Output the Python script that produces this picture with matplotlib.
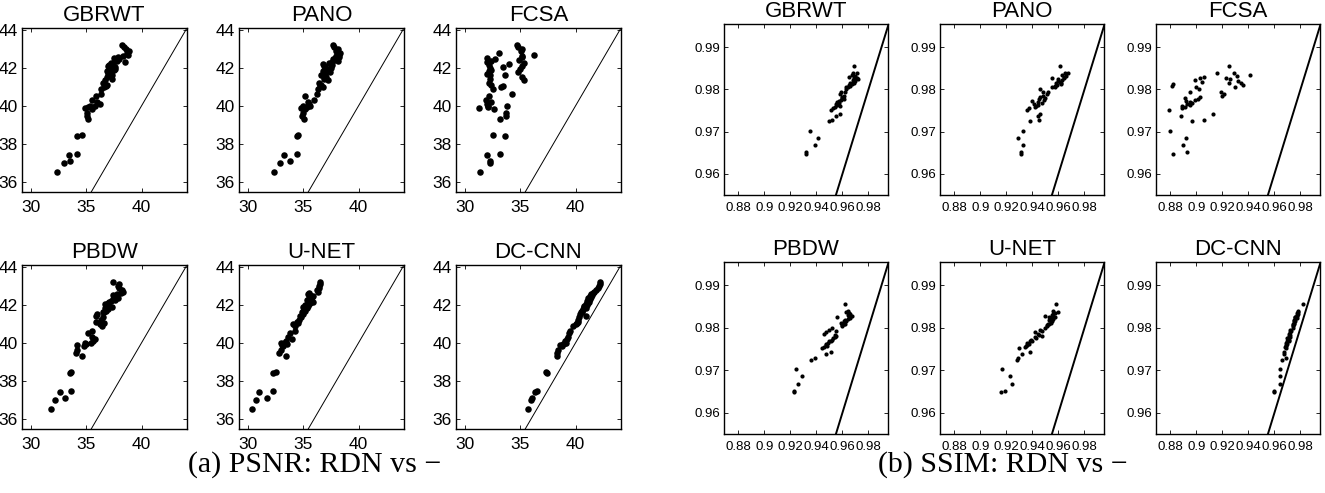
import matplotlib
matplotlib.use("Agg")
import matplotlib.pyplot as plt
import numpy as np

plt.rcParams['font.family'] = ['Liberation Sans', 'DejaVu Sans']

W, H = 1325, 493

# RDN 的 PSNR (纵轴, 所有子图共用)
rdn_psnr = [36.5, 37.0, 37.1, 37.4, 37.45, 38.4, 38.45, 39.3, 39.45, 39.6,
            39.9, 39.95, 40.0, 39.85, 40.1, 40.3, 40.5, 40.6, 40.2, 40.9,
            41.0, 41.05, 41.2, 41.35, 41.4, 41.5, 41.6, 41.7, 41.8, 41.85,
            41.9, 42.0, 42.05, 42.1, 42.2, 42.25, 42.3, 42.35, 42.4, 42.45,
            42.5, 42.55, 42.6, 42.7, 42.8, 42.9, 43.0, 43.1, 43.2, 41.6,
            41.95, 42.15, 40.0, 41.1]

gbrwt_psnr = [32.4, 33.0, 33.5, 33.4, 34.2, 34.2, 34.6, 35.2, 35.1, 35.1,
              34.9, 35.2, 35.8, 35.5, 36.2, 35.5, 35.9, 36.3, 36.0, 36.3,
              36.6, 36.8, 36.5, 36.7, 37.3, 36.9, 37.1, 37.0, 37.2, 36.9,
              37.5, 37.3, 37.6, 37.0, 37.4, 37.2, 38.5, 37.8, 37.6, 38.0,
              37.5, 37.9, 38.3, 38.8, 38.7, 38.9, 38.6, 38.4, 38.2, 37.3,
              37.6, 37.1, 35.3, 36.9]
pano_psnr = [32.4, 32.9, 33.8, 33.3, 34.4, 34.4, 34.5, 35.1, 34.9, 35.0,
             34.8, 35.3, 35.6, 35.2, 35.5, 36.0, 35.2, 36.2, 35.4, 36.3,
             36.8, 36.5, 36.4, 37.2, 36.9, 37.1, 36.7, 37.0, 37.4, 36.8,
             37.2, 37.5, 37.0, 36.9, 36.8, 37.3, 37.6, 38.1, 37.8, 37.7,
             37.9, 38.2, 38.0, 38.2, 38.3, 38.0, 38.1, 37.8, 37.7, 36.6,
             37.2, 37.6, 35.0, 36.6]
fcsa_psnr = [31.4, 32.3, 32.3, 32.0, 33.2, 33.6, 32.5, 33.2, 33.7, 33.7,
             31.3, 32.1, 33.8, 32.6, 32.0, 31.9, 32.2, 34.3, 32.4, 32.5,
             33.3, 33.4, 32.2, 35.3, 32.3, 35.2, 33.6, 32.0, 34.8, 32.2,
             32.4, 32.3, 33.4, 35.2, 34.0, 35.3, 32.0, 32.4, 34.9, 32.7,
             32.0, 35.2, 35.2, 36.2, 33.1, 35.1, 35.2, 34.8, 34.7, 32.3,
             35.0, 32.2, 32.1, 32.4]
pbdw_psnr = [31.8, 32.2, 33.1, 32.6, 33.6, 33.5, 33.6, 34.6, 34.1, 34.2,
             34.2, 35.0, 35.4, 34.8, 35.6, 35.5, 35.2, 35.5, 35.8, 36.4,
             36.2, 36.6, 36.3, 36.5, 35.9, 36.0, 36.6, 36.8, 37.0, 36.7,
             37.3, 36.9, 36.7, 37.0, 37.2, 37.6, 37.4, 37.9, 37.7, 37.5,
             37.4, 37.8, 38.1, 38.3, 38.2, 38.0, 37.9, 38.0, 37.4, 36.5,
             36.8, 37.1, 34.9, 35.9]
unet_psnr = [30.4, 30.7, 31.7, 31.0, 32.3, 32.3, 32.5, 33.4, 32.8, 33.0,
             33.1, 33.5, 33.3, 33.2, 33.4, 33.6, 33.8, 34.3, 34.0, 34.3,
             34.1, 34.5, 34.6, 34.8, 34.7, 35.0, 34.9, 35.2, 35.1, 35.3,
             35.0, 35.2, 35.5, 35.6, 35.4, 35.3, 35.7, 35.5, 35.8, 35.9,
             35.6, 35.4, 35.5, 36.3, 36.2, 36.4, 36.4, 36.5, 36.5, 35.0,
             35.4, 35.9, 33.0, 34.4]
dccnn_psnr = [35.7, 36.0, 36.1, 36.3, 36.5, 37.4, 37.3, 38.3, 38.3, 38.4,
              38.6, 38.9, 39.1, 38.8, 39.0, 39.3, 39.4, 39.5, 39.2, 39.8,
              40.0, 40.1, 40.2, 40.3, 40.9, 40.4, 40.5, 40.6, 40.7, 40.9,
              40.8, 41.0, 40.9, 41.1, 41.0, 41.2, 41.3, 41.1, 41.4, 41.3,
              41.5, 41.4, 41.6, 41.7, 41.8, 42.0, 42.1, 42.2, 42.2, 40.6,
              40.8, 41.2, 39.0, 40.2]

# RDN 的 SSIM
rdn_ssim = [0.9648, 0.9652, 0.9668, 0.9686, 0.9702, 0.9725, 0.9728, 0.9738,
            0.9742, 0.9752, 0.9755, 0.9758, 0.9762, 0.9765, 0.9768, 0.9772,
            0.9775, 0.9778, 0.9780, 0.9785, 0.9790, 0.9793, 0.9795, 0.9800,
            0.9805, 0.9808, 0.9810, 0.9812, 0.9815, 0.9818, 0.9820, 0.9822,
            0.9825, 0.9828, 0.9830, 0.9832, 0.9835, 0.9838, 0.9840, 0.9855,
            0.9760, 0.9770, 0.9783, 0.9816, 0.9826, 0.9806]

gbrwt_ssim = [0.932, 0.932, 0.939, 0.941, 0.935, 0.950, 0.952, 0.955, 0.958,
              0.951, 0.953, 0.954, 0.956, 0.955, 0.957, 0.957, 0.959, 0.961,
              0.960, 0.961, 0.958, 0.959, 0.962, 0.963, 0.964, 0.966, 0.965,
              0.967, 0.969, 0.968, 0.970, 0.968, 0.972, 0.971, 0.965, 0.970,
              0.967, 0.968, 0.971, 0.969, 0.958, 0.956, 0.960, 0.966, 0.969,
              0.963]
pano_ssim = [0.931, 0.931, 0.933, 0.929, 0.933, 0.938, 0.945, 0.944, 0.946,
             0.936, 0.937, 0.942, 0.944, 0.941, 0.947, 0.940, 0.949, 0.945,
             0.950, 0.948, 0.951, 0.948, 0.952, 0.946, 0.955, 0.957, 0.959,
             0.962, 0.958, 0.961, 0.960, 0.963, 0.960, 0.955, 0.964, 0.966,
             0.963, 0.967, 0.965, 0.961, 0.943, 0.944, 0.946, 0.962, 0.964,
             0.957]
fcsa_ssim = [0.882, 0.893, 0.890, 0.892, 0.880, 0.897, 0.906, 0.888, 0.913,
             0.879, 0.889, 0.891, 0.895, 0.893, 0.897, 0.892, 0.899, 0.901,
             0.891, 0.920, 0.921, 0.919, 0.895, 0.902, 0.930, 0.881, 0.936,
             0.882, 0.925, 0.904, 0.932, 0.899, 0.926, 0.923, 0.906, 0.931,
             0.941, 0.916, 0.929, 0.925, 0.889, 0.895, 0.903, 0.934, 0.903,
             0.900]
pbdw_ssim = [0.923, 0.923, 0.926, 0.929, 0.924, 0.936, 0.939, 0.947, 0.951,
             0.944, 0.946, 0.948, 0.947, 0.949, 0.950, 0.952, 0.953, 0.954,
             0.955, 0.946, 0.947, 0.955, 0.950, 0.952, 0.960, 0.962, 0.961,
             0.959, 0.963, 0.962, 0.964, 0.966, 0.965, 0.967, 0.964, 0.966,
             0.965, 0.963, 0.964, 0.962, 0.947, 0.951, 0.954, 0.961, 0.956,
             0.960]
unet_ssim = [0.916, 0.919, 0.924, 0.923, 0.917, 0.928, 0.929, 0.932, 0.938,
             0.930, 0.934, 0.935, 0.937, 0.936, 0.938, 0.939, 0.943, 0.942,
             0.947, 0.944, 0.942, 0.947, 0.946, 0.950, 0.951, 0.953, 0.952,
             0.954, 0.955, 0.953, 0.956, 0.955, 0.957, 0.950, 0.955, 0.956,
             0.957, 0.960, 0.956, 0.958, 0.936, 0.940, 0.945, 0.954, 0.953,
             0.951]
dccnn_ssim = [0.960, 0.960, 0.964, 0.964, 0.964, 0.966, 0.969, 0.967, 0.967,
              0.969, 0.968, 0.969, 0.970, 0.969, 0.970, 0.971, 0.970, 0.972,
              0.971, 0.971, 0.972, 0.973, 0.972, 0.974, 0.974, 0.975, 0.974,
              0.975, 0.976, 0.975, 0.976, 0.977, 0.976, 0.977, 0.977, 0.978,
              0.977, 0.978, 0.978, 0.982, 0.969, 0.971, 0.972, 0.975, 0.976,
              0.974]

methods = ['GBRWT', 'PANO', 'FCSA', 'PBDW', 'U-NET', 'DC-CNN']
psnr_x = [gbrwt_psnr, pano_psnr, fcsa_psnr, pbdw_psnr, unet_psnr, dccnn_psnr]
ssim_x = [gbrwt_ssim, pano_ssim, fcsa_ssim, pbdw_ssim, unet_ssim, dccnn_ssim]

psnr_xticks = [30, 35, 40]
psnr_yticks = [36, 38, 40, 42, 44]
ssim_xticks = [0.88, 0.9, 0.92, 0.94, 0.96, 0.98]
ssim_yticks = [0.96, 0.97, 0.98, 0.99]

fig = plt.figure(figsize=(W / 100, H / 100), dpi=100)


def add_ax(x0, y0, x1, y1):
    # 像素坐标 -> figure 坐标
    return fig.add_axes([x0 / W, 1 - y1 / H, (x1 - x0) / W, (y1 - y0) / H])


def style(ax, fs):
    ax.tick_params(direction='in', top=True, right=True, length=3,
                   width=0.6, labelsize=fs, pad=3)
    for s in ax.spines.values():
        s.set_linewidth(1.0)


# PSNR 子图
psnr_cols = [22, 239, 456]
psnr_rows = [(28, 192), (265, 429)]
for i, m in enumerate(methods):
    r, c = divmod(i, 3)
    x0 = psnr_cols[c]
    y0, y1 = psnr_rows[r]
    ax = add_ax(x0, y0, x0 + 165, y1)
    ax.plot([29.2, 44.1], [29.2, 44.1], color='black', lw=0.7)
    ax.scatter(psnr_x[i], rdn_psnr, s=22, color='black', linewidths=0)
    ax.set_xlim(29.2, 44.1)
    ax.set_ylim(35.45, 44.1)
    ax.set_xticks(psnr_xticks)
    ax.set_yticks(psnr_yticks)
    style(ax, 12.5)
    ax.tick_params(axis='x', pad=6)
    ax.set_title(m, fontsize=16, pad=5)

# SSIM 子图
ssim_cols = [724, 940, 1156]
ssim_rows = [(24, 195), (262, 434)]
for i, m in enumerate(methods):
    r, c = divmod(i, 3)
    x0 = ssim_cols[c]
    y0, y1 = ssim_rows[r]
    ax = add_ax(x0, y0, x0 + 164, y1)
    ax.plot([0.86, 0.9955], [0.86, 0.9955], color='black', lw=1.4)
    ax.scatter(ssim_x[i], rdn_ssim, s=9, color='black', linewidths=0)
    ax.set_xlim(0.869, 0.995)
    ax.set_ylim(0.955, 0.9955)
    ax.set_xticks(ssim_xticks)
    ax.set_xticklabels(['0.88', '0.9', '0.92', '0.94', '0.96', '0.98'])
    ax.set_yticks(ssim_yticks)
    style(ax, 9.5)
    ax.tick_params(axis='x', pad=5)
    ax.set_title(m, fontsize=16, pad=5)

fig.text(315 / W, 1 - 465 / H, '(a) PSNR: RDN vs \u2212', ha='center', va='center',
         fontsize=21.5, family=['Liberation Serif', 'DejaVu Serif'])
fig.text(1003 / W, 1 - 465 / H, '(b) SSIM: RDN vs \u2212', ha='center', va='center',
         fontsize=21.5, family=['Liberation Serif', 'DejaVu Serif'])

fig.savefig('out.png', dpi=100)
